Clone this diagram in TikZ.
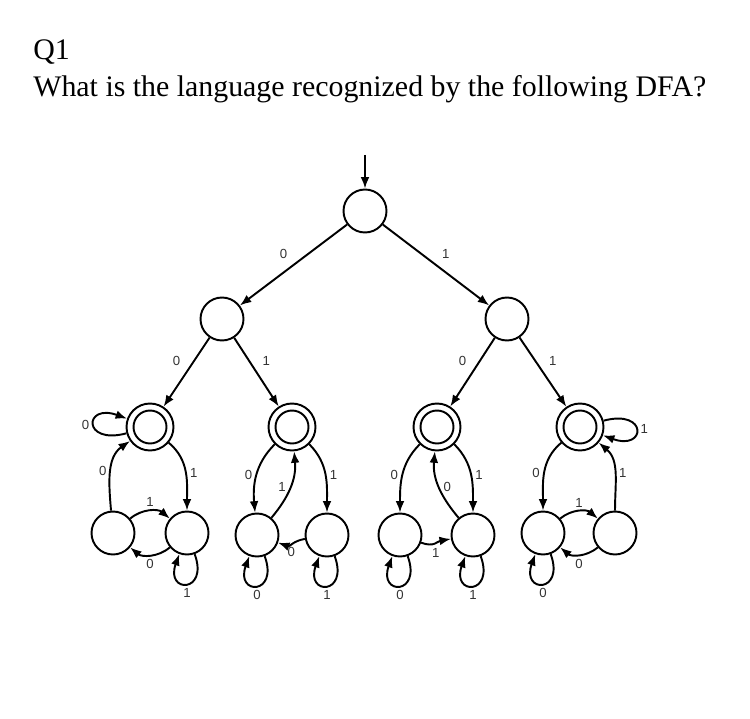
\documentclass[tikz,border=0pt]{standalone}
\usepackage{fontspec}
\setmainfont{Liberation Serif}
\newfontfamily\lblfont{Liberation Sans}
\usetikzlibrary{arrows.meta}

\def \statesize {0.86cm}
\def \acceptsize {0.94cm}
\def \innersize {0.66cm}
\def \loopness {7}

\begin{document}
\begin{tikzpicture}[x=0.02cm, y=0.02cm,
  dfastate/.style={draw, circle, line width=1.1pt, minimum size=\statesize, inner sep=0pt},
  acceptstate/.style={dfastate, minimum size=\acceptsize},
  trans/.style={-{Latex[length=6.5pt,width=5pt]}, line width=1.1pt},
  lbl/.style={font=\lblfont\fontsize{7.5}{8}\selectfont, text=black!80, inner sep=2pt},
  qstyle/.style={anchor=base west, inner sep=0pt, font=\fontsize{17}{20}\selectfont}]
\useasboundingbox (0,0) rectangle (750,-719);

% question
\node[qstyle] (qnum) at (33,-60) {Q1};
\node[qstyle] (qtext) at (33,-97) {What is the language recognized by the following DFA?};

% tree part
\coordinate (start) at (365,-155);
\node[dfastate] (s) at (365,-211) {};
\node[dfastate] (s0) at (222,-319) {};
\node[dfastate] (s1) at (507,-319) {};
\draw[trans] (start) -- (s);
\draw[trans] (s) -- node[lbl, above left=1pt] {0} (s0);
\draw[trans] (s) -- node[lbl, above right=1pt] {1} (s1);

% accepting states
\node[acceptstate] (a00) at (150,-427) {};
\node[dfastate, minimum size=\innersize] (a00i) at (a00) {};
\node[acceptstate] (a01) at (292,-427) {};
\node[dfastate, minimum size=\innersize] (a01i) at (a01) {};
\node[acceptstate] (a10) at (437,-427) {};
\node[dfastate, minimum size=\innersize] (a10i) at (a10) {};
\node[acceptstate] (a11) at (580,-427) {};
\node[dfastate, minimum size=\innersize] (a11i) at (a11) {};
\draw[trans] (s0) -- node[lbl, above left=1pt] {0} (a00);
\draw[trans] (s0) -- node[lbl, above right=1pt] {1} (a01);
\draw[trans] (s1) -- node[lbl, above left=1pt] {0} (a10);
\draw[trans] (s1) -- node[lbl, above right=1pt] {1} (a11);

% bottom row
\node[dfastate] (p00) at (113,-533) {};
\node[dfastate] (q00) at (187,-533) {};
\node[dfastate] (p01) at (257,-535) {};
\node[dfastate] (q01) at (327,-535) {};
\node[dfastate] (p10) at (400,-535) {};
\node[dfastate] (q10) at (473,-535) {};
\node[dfastate] (p11) at (543,-533) {};
\node[dfastate] (q11) at (615,-533) {};

% group 00
\draw[trans] (a00) to[out=195, in=160, looseness=8] node[lbl, left] {0} (a00);
\draw[trans] (p00) to[out=95, in=215] node[lbl, left] {0} (a00);
\draw[trans] (a00) to[out=-40, in=90] node[lbl, right] {1} (q00);
\draw[trans] (p00) to[out=40, in=140] node[lbl, above] {1} (q00);
\draw[trans] (q00) to[out=-140, in=-40] node[lbl, below] {0} (p00);
\draw[trans] (q00) to[out=-70, in=-110, looseness=\loopness] node[lbl, below] {1} (q00);

% group 01
\draw[trans] (a01) to[out=225, in=95] node[lbl, left] {0} (p01);
\draw[trans] (p01) to[out=50, in=-85] node[lbl, left] {1} (a01);
\draw[trans] (a01) to[out=-45, in=90] node[lbl, right] {1} (q01);
\draw[trans] (q01) to[out=190, in=-20, looseness=1.2] node[lbl, below] {0} (p01);
\draw[trans] (p01) to[out=-70, in=-110, looseness=\loopness] node[lbl, below] {0} (p01);
\draw[trans] (q01) to[out=-70, in=-110, looseness=\loopness] node[lbl, below] {1} (q01);

% group 10
\draw[trans] (a10) to[out=225, in=90] node[lbl, left] {0} (p10);
\draw[trans] (a10) to[out=-45, in=90] node[lbl, right] {1} (q10);
\draw[trans] (q10) to[out=130, in=-95] node[lbl, right] {0} (a10);
\draw[trans] (p10) to[out=-20, in=190, looseness=1.2] node[lbl, below] {1} (q10);
\draw[trans] (p10) to[out=-70, in=-110, looseness=\loopness] node[lbl, below] {0} (p10);
\draw[trans] (q10) to[out=-70, in=-110, looseness=\loopness] node[lbl, below] {1} (q10);

% group 11
\draw[trans] (a11) to[out=15, in=-20, looseness=8] node[lbl, right] {1} (a11);
\draw[trans] (a11) to[out=220, in=90] node[lbl, left] {0} (p11);
\draw[trans] (q11) to[out=90, in=-40] node[lbl, right] {1} (a11);
\draw[trans] (p11) to[out=40, in=140] node[lbl, above] {1} (q11);
\draw[trans] (q11) to[out=-140, in=-40] node[lbl, below] {0} (p11);
\draw[trans] (p11) to[out=-70, in=-110, looseness=\loopness] node[lbl, below] {0} (p11);
\end{tikzpicture}
\end{document}
